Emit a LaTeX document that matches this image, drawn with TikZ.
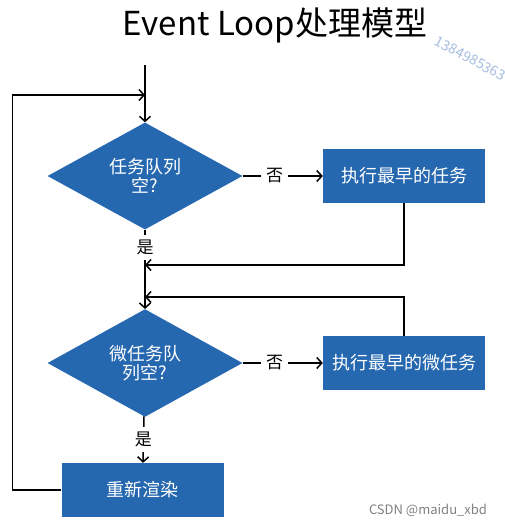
\documentclass[tikz,border=0pt]{standalone}
\usepackage{fontspec}
\setmainfont{Noto Sans CJK SC}
\usetikzlibrary{shapes.geometric,arrows.meta}
\definecolor{taskblue}{RGB}{38,104,176}
\definecolor{markblue}{RGB}{165,188,224}
\tikzset{
  flow/.style={line width=1.5pt},
  goto/.style={flow,-{Straight Barb[length=5pt,width=11pt,line width=1.5pt]}},
  decision/.style={diamond,fill=taskblue,text=white,minimum width=195pt,minimum height=75pt,
    inner sep=0pt,align=center,font=\fontsize{18}{19}\selectfont},
  task/.style={rectangle,fill=taskblue,text=white,minimum width=162pt,minimum height=54pt,
    font=\fontsize{18}{20}\selectfont},
  answer/.style={fill=white,inner sep=5pt,font=\fontsize{17}{19}\selectfont}
}
\begin{document}
\begin{tikzpicture}[x=1pt,y=1pt]
				\useasboundingbox (0,0) rectangle (505,-528);
				\node (title) at (275,-25) {\fontsize{33}{36}\selectfont Event Loop处理模型};
				\node (d1) 	[decision] at (145,-176) 	{任务队列\\空?};
				\node (b1) 	[task, right of=d1, node distance=259pt]		{执行最早的任务};
				\node (d2) 	[decision, below of=d1, node distance=187pt]	{微任务队\\列空?};
				\node (b2) 	[task, right of=d2, node distance=259pt]		{执行最早的微任务};
				\node (b3) 	[task, below of=d2, node distance=127pt, xshift=-2.5pt]	{重新渲染};
				\coordinate (start) at (145,-65);
				\coordinate (loopin) at (145,-95);
				\coordinate (j1) at (145,-265);
				\coordinate (j2) at (145,-297);
				% main flow
				\draw[goto]		(start)	--	(d1);
				\draw[goto]		(d1)	to node[answer, pos=0.4] {否} 	(b1);
				\draw[flow]		(d1)	to node[answer] {是} 			(j1);
				\draw[goto]		(b1)	|-	(j1);
				\draw[goto]		(j1)	--	(d2);
				\draw[goto]		(b2)	|-	(j2);
				\draw[goto]		(d2)	to node[answer, pos=0.4] {否} 	(b2);
				\draw[goto]		(d2)	to node[answer] {是} 			(b3);
				\draw[goto]		(b3.west)	-- ++(-49,0) |- (loopin);
				% watermarks
				\node (mark) [text=markblue, rotate=-28, anchor=west, inner sep=0pt, font=\fontsize{14}{16}\selectfont\itshape] at (436,-40) {1384985363};
				\node (csdn) [text=gray, font=\fontsize{13}{15}\selectfont] at (428,-510) {CSDN @maidu\_xbd};
\end{tikzpicture}
\end{document}
